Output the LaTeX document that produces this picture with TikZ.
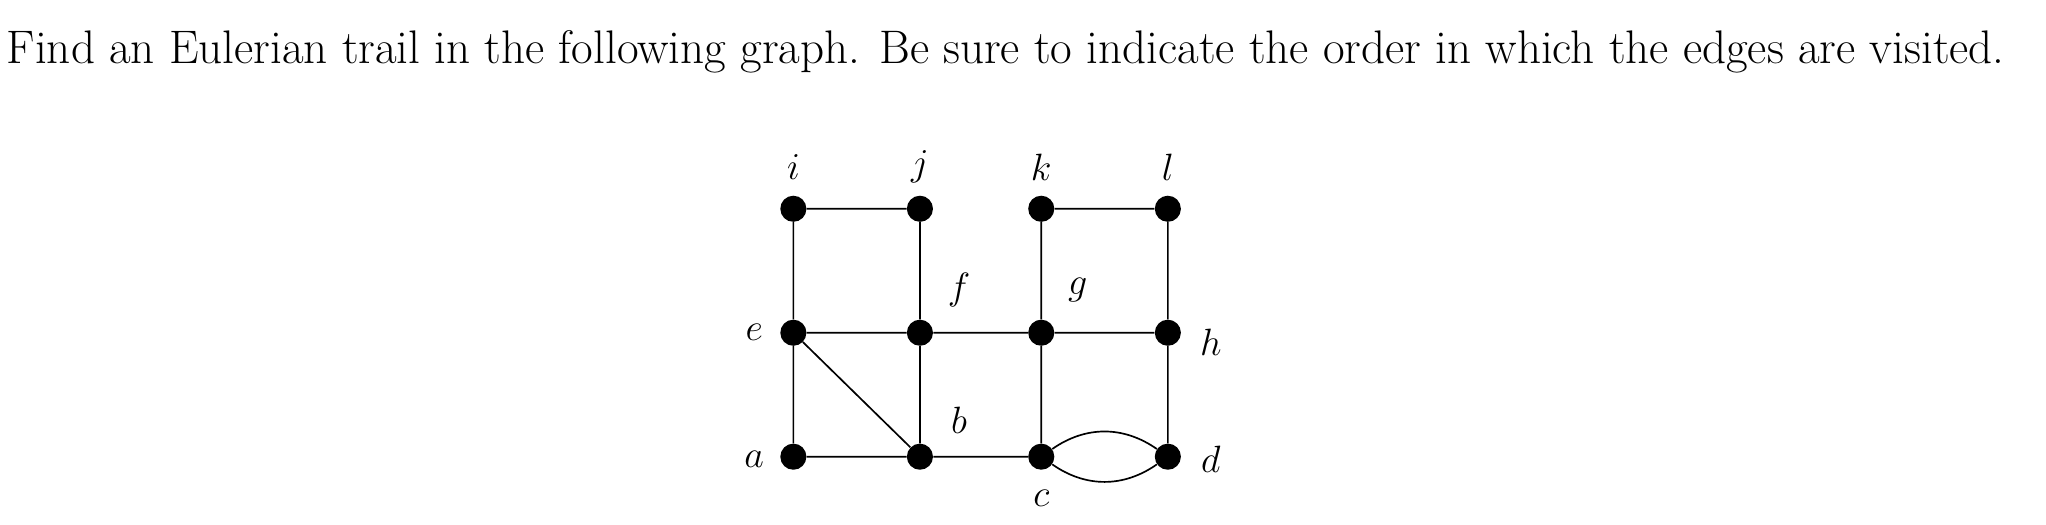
\documentclass[tikz,border=0pt]{standalone}
\begin{document}
\begin{tikzpicture}[x=0.03cm,y=-0.03cm,
  vtx/.style={circle,fill=black,inner sep=0pt,minimum size=0.6cm},
  lbl/.style={font=\fontsize{30}{36}\selectfont\itshape},
  edge/.style={line width=1.1pt}]
\useasboundingbox (0,0) rectangle (1568,402);
\node[anchor=west,font=\fontsize{30.8}{36}\selectfont,inner sep=0pt] (title) at (5,40) {Find an Eulerian trail in the following graph. Be sure to indicate the order in which the edges are visited.};
\node[vtx] (i) at (608,160) {};
\node[vtx] (j) at (705,160) {};
\node[vtx] (k) at (798,160) {};
\node[vtx] (l) at (895,160) {};
\node[vtx] (e) at (608,255) {};
\node[vtx] (f) at (705,255) {};
\node[vtx] (g) at (798,255) {};
\node[vtx] (h) at (895,255) {};
\node[vtx] (a) at (608,350) {};
\node[vtx] (b) at (705,350) {};
\node[vtx] (c) at (798,350) {};
\node[vtx] (d) at (895,350) {};
\draw[edge] (i)--(j) (k)--(l) (i)--(e) (j)--(f) (k)--(g) (l)--(h)
  (e)--(f) (f)--(g) (g)--(h) (e)--(a) (f)--(b) (g)--(c) (h)--(d)
  (a)--(b) (b)--(c) (e)--(b);
\draw[edge] (c) to[bend left=35] (d);
\draw[edge] (c) to[bend right=35] (d);
\node[lbl] (li) at (608,128) {$i$};
\node[lbl] (lj) at (705,128) {$j$};
\node[lbl] (lk) at (798,128) {$k$};
\node[lbl] (ll) at (895,128) {$l$};
\node[lbl] (lf) at (735,222) {$f$};
\node[lbl] (lg) at (826,222) {$g$};
\node[lbl] (le) at (578,255) {$e$};
\node[lbl] (lh) at (928,262) {$h$};
\node[lbl] (lb) at (735,322) {$b$};
\node[lbl] (la) at (578,352) {$a$};
\node[lbl] (ld) at (928,352) {$d$};
\node[lbl] (lc) at (798,382) {$c$};
\end{tikzpicture}
\end{document}
